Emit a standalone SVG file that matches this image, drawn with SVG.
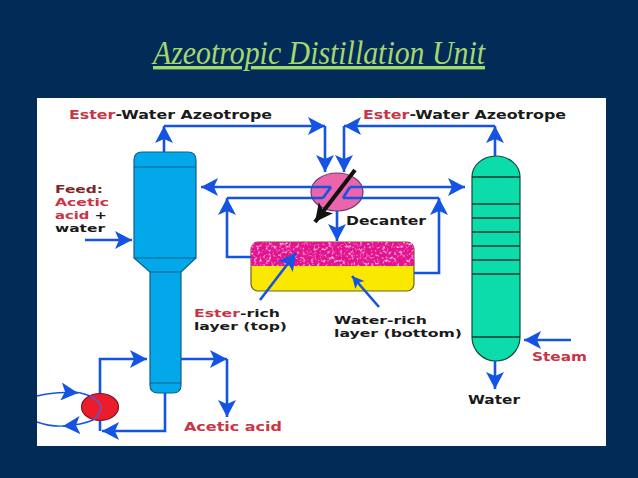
<svg xmlns="http://www.w3.org/2000/svg" width="638" height="478" viewBox="0 0 638 478">
<style>
.c{fill:none;stroke:#1554e3;stroke-width:2.6}
.a{marker-end:url(#ah)}
.t{font-family:"DejaVu Sans",Verdana,sans-serif;font-size:12px;fill:#1a1a1a;font-weight:700;stroke:none}
.s{font-size:11px}
.r{fill:#cc3344}
.l{stroke-width:1.4;fill:none}
</style>
<defs>
<marker id="ah" markerUnits="userSpaceOnUse" markerWidth="18" markerHeight="18" refX="17" refY="9" orient="auto"><path d="M0,0 L17,9 L0,18 L4,9Z" fill="#1554e3"/></marker>
<marker id="as" markerUnits="userSpaceOnUse" markerWidth="14" markerHeight="14" refX="12" refY="7" orient="auto"><path d="M0,1 L12,7 L0,13 L3,7Z" fill="#1554e3"/></marker>
<marker id="ab" markerUnits="userSpaceOnUse" markerWidth="20" markerHeight="20" refX="18" refY="9" orient="auto"><path d="M0,0 L18,9 L0,18 L4,9Z" fill="#111"/></marker>
<filter id="sp" x="0" y="0" width="100%" height="100%"><feTurbulence type="fractalNoise" baseFrequency="0.35" numOctaves="2" seed="4"/><feColorMatrix values="0 0 0 0 1  0 0 0 0 0.72  0 0 0 0 0.88  3 0 0 0 -1.5"/></filter>
<clipPath id="tc"><rect x="251" y="242" width="163" height="24"/></clipPath>
</defs>
<rect width="638" height="478" fill="#032b58"/>
<g id="title"><text x="153" y="64" textLength="332" lengthAdjust="spacingAndGlyphs" font-family="'Liberation Serif',serif" font-style="italic" font-size="34" fill="#a3d86f" text-decoration="underline">Azeotropic Distillation Unit</text></g>
<rect id="panel" x="37" y="98" width="569" height="348" fill="#fff"/>
<g id="column-left"><path d="M134,160 Q134,152 142,152 H188 Q196,152 196,160 V258 L181,272 V385 Q181,393 173,393 H158 Q150,393 150,385 V272 L134,258Z" fill="#02a8ea" stroke="#125f86" stroke-width="1.2"/><path d="M134,167 H196 M134,258 H196 M150,272 H181 M150,383 H181" fill="none" stroke="#125f86" stroke-width="1.2"/></g>
<g id="column-right"><path d="M472,177 A24,21 0 0 1 520,177 V337 A24,24 0 0 1 472,337Z" fill="#0bdcaa" stroke="#0d4b3e" stroke-width="1.2"/><path d="M472,177H520M472,204H520M472,218H520M472,232H520M472,246H520M472,260H520M472,274H520M472,337H520" fill="none" stroke="#0d3d33" stroke-width="1.4"/></g>
<g id="tank"><rect x="251" y="242" width="163" height="49" rx="7" fill="#fbe800" stroke="#6b6420" stroke-width="1.2"/><path d="M251,266 V249 Q251,242 258,242 H407 Q414,242 414,249 V266Z" fill="#e3128e"/><g clip-path="url(#tc)"><rect x="251" y="242" width="163" height="24" filter="url(#sp)"/></g></g>
<g id="connectors">
<path class="c a" d="M164,152V126"/>
<path class="c a" d="M164,126H325"/>
<path class="c a" d="M325,126V172"/>
<path class="c a" d="M495,156V126"/>
<path class="c a" d="M495,126H344"/>
<path class="c a" d="M344,126V172"/>
<path class="c a" d="M251,257H227V198"/>
<path class="c a" d="M414,273H439V198"/>
<path class="c a" d="M85,240H132"/>
<path class="c a" d="M260,300L296,253"/>
<path class="c" style="marker-end:url(#as)" d="M379,307L352,276"/>
<path class="c a" d="M100,393V359H147"/>
<path class="c a" d="M181,359H227"/>
<path class="c a" d="M227,359V417"/>
<path class="c a" d="M165,393V431H102"/>
<path class="c" d="M100,420V431"/>
<path class="c a" d="M571,340H524"/>
<path class="c a" d="M495,361V389"/>
<path class="c l a" d="M37,396Q56,391 78,393"/>
<path class="c l" d="M72,392Q80,392 90,396"/>
<path class="c l a" d="M93,420Q82,425 63,426"/>
<path class="c l" d="M66,426Q50,427 37,422"/>
</g>
<g id="decanter"><ellipse cx="337" cy="192" rx="26" ry="19" fill="#ea65ac" stroke="#6d3a72" stroke-width="1.2"/>
<path class="c a" d="M331,187H201"/>
<path class="c a" d="M350,187H465"/>
<path class="c" d="M331,187L323,198"/>
<path class="c" d="M350,187L343,198"/>
<path class="c" d="M323,198H227"/>
<path class="c" d="M343,198H439"/>
<path class="c a" d="M337,211V241"/>
<path d="M355,170L315,222" fill="none" stroke="#111" stroke-width="4" marker-end="url(#ab)"/></g>
<g id="reboiler"><ellipse cx="100" cy="407" rx="18.500" ry="13.500" fill="#ec1c2b" stroke="#7c1530" stroke-width="1.2"/><path d="M90,396Q110,406 93,420" fill="none" stroke="#7a4ab0" stroke-width="2"/></g>
<g id="labels">
<text class="t" x="69" y="119" textLength="203" lengthAdjust="spacingAndGlyphs"><tspan class="r">Ester</tspan>-Water Azeotrope</text>
<text class="t" x="363" y="119" textLength="203" lengthAdjust="spacingAndGlyphs"><tspan class="r">Ester</tspan>-Water Azeotrope</text>
<text class="t s" x="55" y="193" textLength="48" lengthAdjust="spacingAndGlyphs" style="fill:#7a2a2a">Feed:</text>
<text class="t s r" x="55" y="206" textLength="54" lengthAdjust="spacingAndGlyphs">Acetic</text>
<text class="t s" x="55" y="219" textLength="52" lengthAdjust="spacingAndGlyphs"><tspan class="r">acid</tspan> +</text>
<text class="t s" x="55" y="232" textLength="50" lengthAdjust="spacingAndGlyphs">water</text>
<text class="t" x="346" y="225" textLength="80" lengthAdjust="spacingAndGlyphs">Decanter</text>
<text class="t s" x="194" y="316.500" textLength="86" lengthAdjust="spacingAndGlyphs"><tspan class="r">Ester</tspan>-rich</text>
<text class="t s" x="194" y="329.500" textLength="93" lengthAdjust="spacingAndGlyphs">layer (top)</text>
<text class="t s" x="334" y="323.500" textLength="93" lengthAdjust="spacingAndGlyphs">Water-rich</text>
<text class="t s" x="334" y="336.500" textLength="128" lengthAdjust="spacingAndGlyphs">layer (bottom)</text>
<text class="t r" x="532" y="361" textLength="55" lengthAdjust="spacingAndGlyphs">Steam</text>
<text class="t" x="468" y="404" textLength="52" lengthAdjust="spacingAndGlyphs">Water</text>
<text class="t r" x="184" y="431" textLength="98" lengthAdjust="spacingAndGlyphs">Acetic acid</text>
</g>
</svg>
